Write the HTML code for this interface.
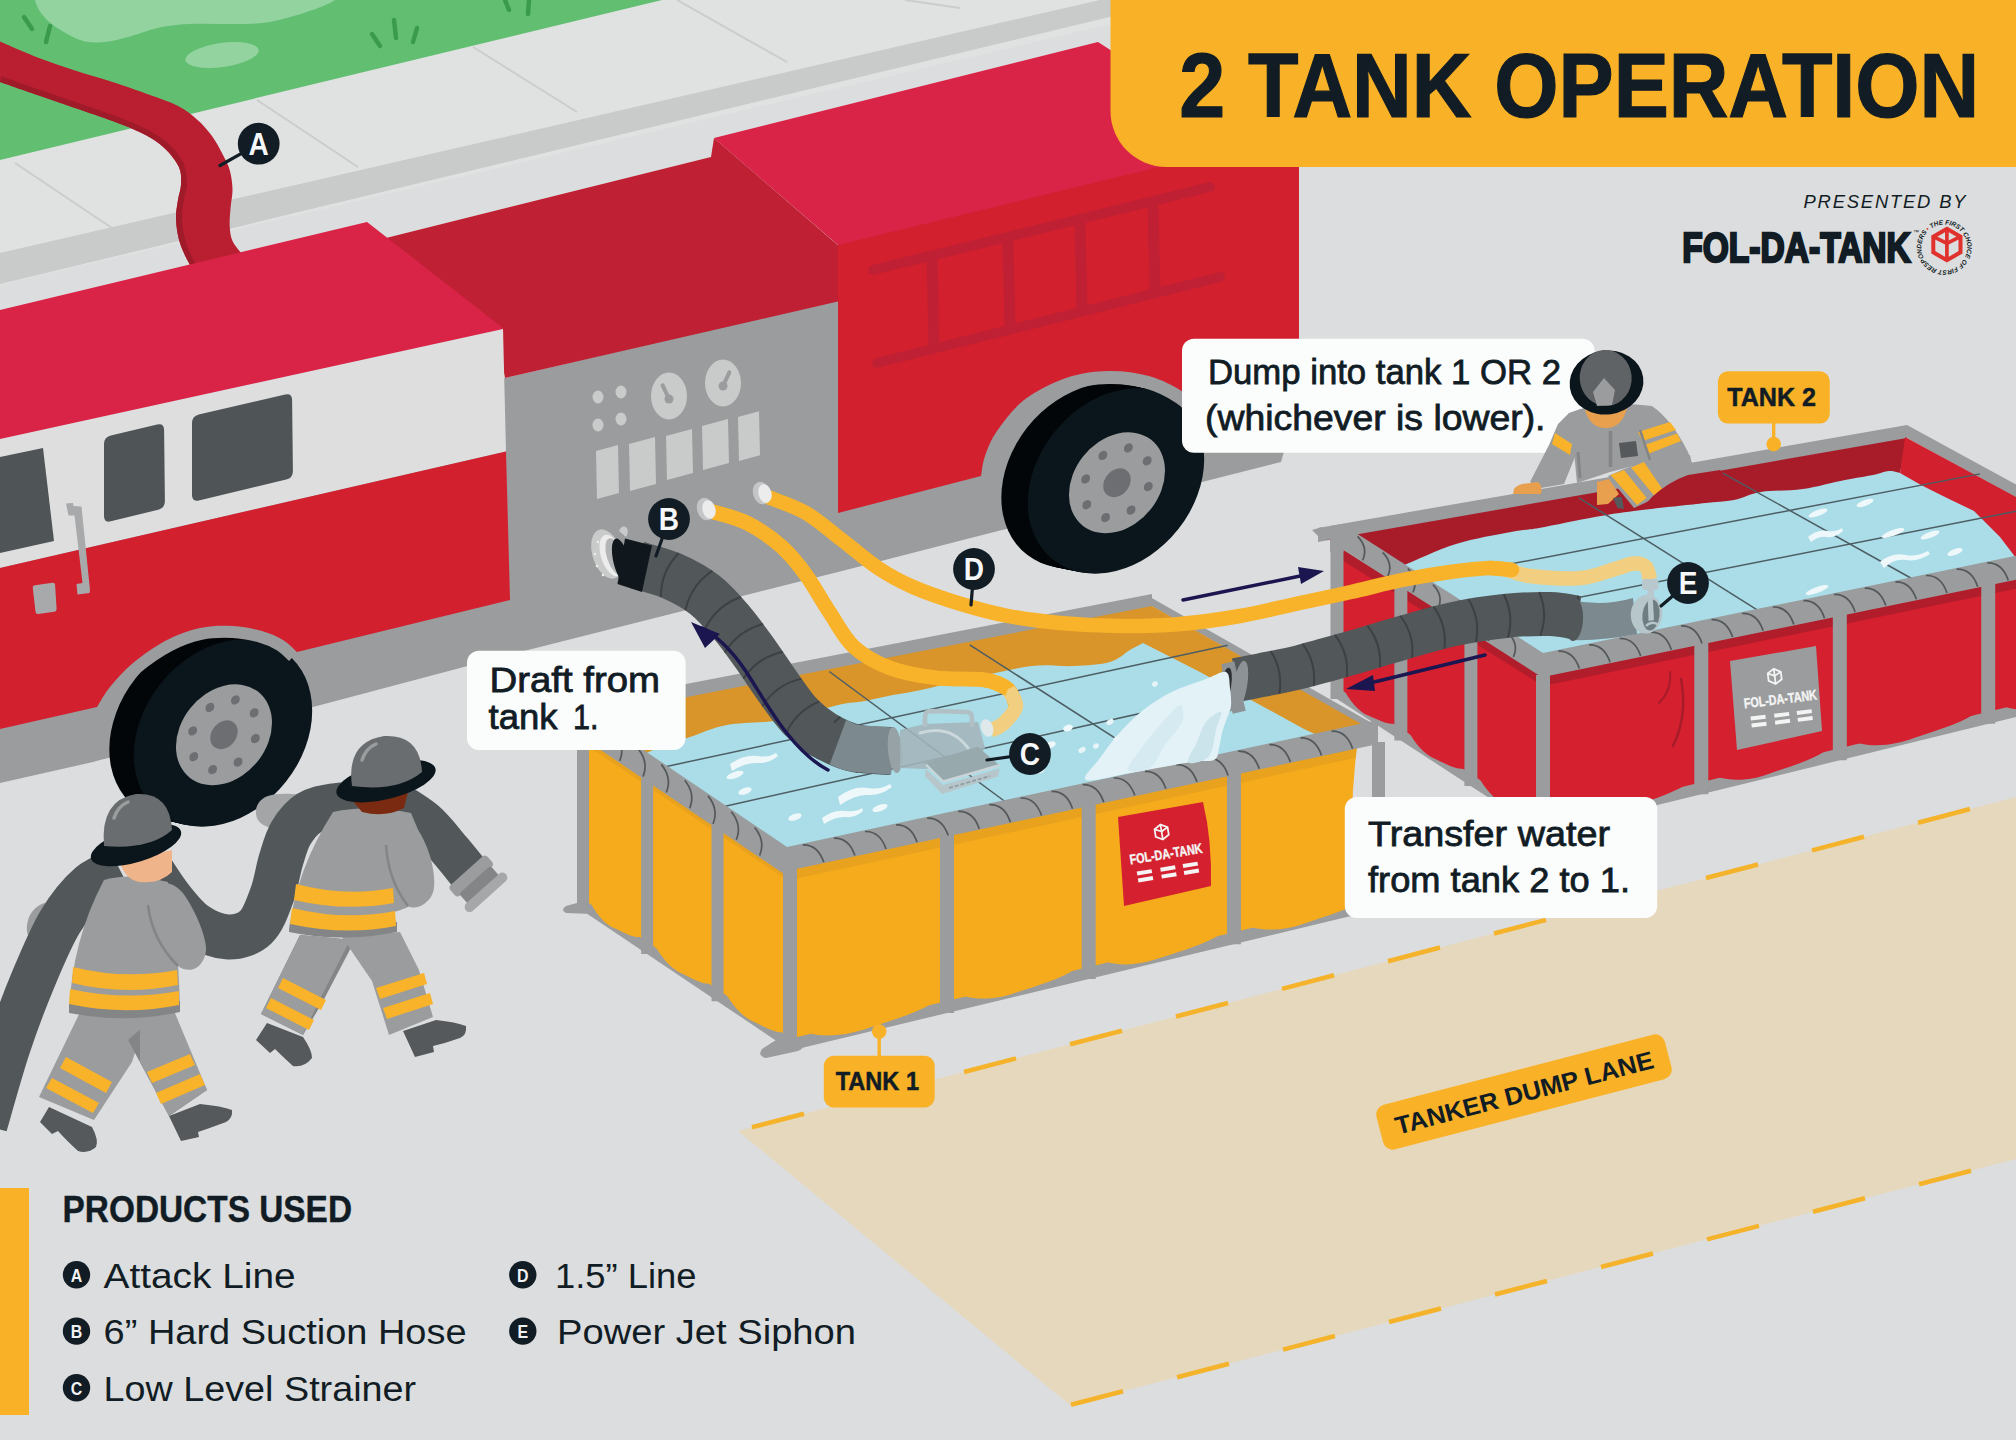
<!DOCTYPE html>
<html><head><meta charset="utf-8"><title>2 Tank Operation</title>
<style>
html,body{margin:0;padding:0;background:#dcddde;}
body{width:2016px;height:1440px;overflow:hidden;}
svg{display:block;font-family:"Liberation Sans",sans-serif;}
</style></head><body>
<svg width="2016" height="1440" viewBox="0 0 2016 1440">
<rect width="2016" height="1440" fill="#dcddde"/>
<polygon points="0,0 1120,0 1120,22 0,285" fill="#e0e1e1" />
<polygon points="0,253 1100,0 1180,0 0,284" fill="#c9caca" />
<line x1="15" y1="163" x2="112" y2="228" stroke="#cbcccc" stroke-width="2" />
<line x1="257" y1="100" x2="358" y2="167" stroke="#cbcccc" stroke-width="2" />
<line x1="473" y1="47" x2="577" y2="112" stroke="#cbcccc" stroke-width="2" />
<line x1="677" y1="0" x2="787" y2="62" stroke="#cbcccc" stroke-width="2" />
<line x1="905" y1="0" x2="960" y2="8" stroke="#cbcccc" stroke-width="2" />
<polygon points="0,0 662,0 0,160" fill="#62bf72" />
<path d="M35,0 C40,20 60,30 75,38 C95,48 120,40 150,30 C190,18 230,28 270,22 C300,16 330,4 335,0 Z" fill="#93d3a0" />
<ellipse cx="222" cy="55" rx="37" ry="12" fill="#93d3a0" transform="rotate(-8 222 55)" />
<line x1="24" y1="17" x2="32" y2="29" stroke="#3b9b4d" stroke-width="4.5" stroke-linecap="round"/>
<line x1="50" y1="26" x2="46" y2="42" stroke="#3b9b4d" stroke-width="4.5" stroke-linecap="round"/>
<line x1="372" y1="34" x2="380" y2="46" stroke="#3b9b4d" stroke-width="4.5" stroke-linecap="round"/>
<line x1="394" y1="20" x2="396" y2="38" stroke="#3b9b4d" stroke-width="4.5" stroke-linecap="round"/>
<line x1="417" y1="28" x2="413" y2="42" stroke="#3b9b4d" stroke-width="4.5" stroke-linecap="round"/>
<line x1="505" y1="0" x2="509" y2="10" stroke="#3b9b4d" stroke-width="4.5" stroke-linecap="round"/>
<line x1="529" y1="0" x2="528" y2="14" stroke="#3b9b4d" stroke-width="4.5" stroke-linecap="round"/>
<path d="M0,41.6 C6.2,44.2 25.0,52.7 37.5,57.5 C50.0,62.3 62.5,66.5 75.0,70.6 C87.5,74.7 100.0,77.9 112.5,82.0 C125.0,86.1 139.1,91.0 150.0,95.0 C160.9,99.0 170.2,101.9 178.0,106.0 C185.8,110.1 191.3,114.4 197.0,119.4 C202.7,124.4 207.7,130.1 212.0,136.0 C216.3,141.9 220.1,149.3 223.0,155.0 C225.9,160.7 228.1,164.3 229.7,170.0 C231.3,175.7 232.3,182.8 232.5,189.0 C232.7,195.2 231.1,201.3 230.6,207.5 C230.1,213.7 229.4,220.4 229.7,226.0 C230.0,231.6 230.4,236.3 232.5,241.0 C234.6,245.7 240.4,251.8 242.0,254.0 L190,265 C188.8,262.6 184.8,255.5 182.8,250.6 C180.8,245.7 179.1,241.2 178.0,235.6 C176.9,230.0 176.0,222.9 176.0,217.0 C176.0,211.1 177.2,205.3 178.0,200.0 C178.8,194.7 180.7,190.0 181.0,185.0 C181.3,180.0 181.4,174.7 180.0,170.0 C178.6,165.3 175.9,161.4 172.5,157.0 C169.1,152.6 164.7,147.9 159.4,143.8 C154.1,139.7 148.4,136.3 140.6,132.5 C132.8,128.7 123.4,125.1 112.5,121.0 C101.6,116.9 87.5,112.3 75.0,108.0 C62.5,103.7 50.0,99.3 37.5,95.0 C25.0,90.7 6.2,84.2 0.0,82.0Z" fill="#b91f30" />
<path d="M190,265 C188.8,262.6 184.8,255.5 182.8,250.6 C180.8,245.7 179.1,241.2 178.0,235.6 C176.9,230.0 176.0,222.9 176.0,217.0 C176.0,211.1 177.2,205.3 178.0,200.0 C178.8,194.7 180.7,190.0 181.0,185.0 C181.3,180.0 181.4,174.7 180.0,170.0 C178.6,165.3 175.9,161.4 172.5,157.0 C169.1,152.6 164.7,147.9 159.4,143.8 C154.1,139.7 148.4,136.3 140.6,132.5 C132.8,128.7 123.4,125.1 112.5,121.0 C101.6,116.9 87.5,112.3 75.0,108.0 C62.5,103.7 50.0,99.3 37.5,95.0 C25.0,90.7 6.2,84.2 0.0,82.0 L1.5,76.5 C7.8,78.7 26.5,85.2 39.0,89.5 C51.5,93.8 64.0,98.2 76.5,102.5 C89.0,106.8 103.1,111.4 114.0,115.5 C124.9,119.6 133.8,123.0 142.1,127.0 C150.4,131.1 158.1,135.5 163.9,139.8 C169.7,144.1 173.6,148.6 177.0,153.0 C180.4,157.4 182.8,160.8 184.5,166.0 C186.2,171.2 187.1,178.9 187.0,184.5 C186.9,190.1 184.8,194.2 184.0,199.5 C183.2,204.8 182.0,210.6 182.0,216.5 C182.0,222.4 182.9,229.5 184.0,235.1 C185.1,240.7 186.8,245.2 188.8,250.1 C190.8,255.0 194.8,262.1 196.0,264.5Z" fill="#9f1b2a" />
<polygon points="738,1131 2016,797 2016,1159 1070,1405" fill="#e6d8bd" />
<line x1="752" y1="1127.34" x2="804" y2="1113.75" stroke="#f5b32b" stroke-width="4.6" />
<line x1="858" y1="1099.64" x2="910" y2="1086.06" stroke="#f5b32b" stroke-width="4.6" />
<line x1="964" y1="1071.95" x2="1016" y2="1058.36" stroke="#f5b32b" stroke-width="4.6" />
<line x1="1070" y1="1044.25" x2="1122" y2="1030.66" stroke="#f5b32b" stroke-width="4.6" />
<line x1="1176" y1="1016.55" x2="1228" y2="1002.96" stroke="#f5b32b" stroke-width="4.6" />
<line x1="1282" y1="988.853" x2="1334" y2="975.265" stroke="#f5b32b" stroke-width="4.6" />
<line x1="1388" y1="961.155" x2="1440" y2="947.567" stroke="#f5b32b" stroke-width="4.6" />
<line x1="1494" y1="933.457" x2="1546" y2="919.87" stroke="#f5b32b" stroke-width="4.6" />
<line x1="1600" y1="905.759" x2="1652" y2="892.172" stroke="#f5b32b" stroke-width="4.6" />
<line x1="1706" y1="878.062" x2="1758" y2="864.474" stroke="#f5b32b" stroke-width="4.6" />
<line x1="1812" y1="850.364" x2="1864" y2="836.776" stroke="#f5b32b" stroke-width="4.6" />
<line x1="1918" y1="822.666" x2="1970" y2="809.078" stroke="#f5b32b" stroke-width="4.6" />
<line x1="1071" y1="1404.74" x2="1123" y2="1391.22" stroke="#f5b32b" stroke-width="4.6" />
<line x1="1177" y1="1377.18" x2="1229" y2="1363.66" stroke="#f5b32b" stroke-width="4.6" />
<line x1="1283" y1="1349.62" x2="1335" y2="1336.1" stroke="#f5b32b" stroke-width="4.6" />
<line x1="1389" y1="1322.06" x2="1441" y2="1308.54" stroke="#f5b32b" stroke-width="4.6" />
<line x1="1495" y1="1294.5" x2="1547" y2="1280.98" stroke="#f5b32b" stroke-width="4.6" />
<line x1="1601" y1="1266.94" x2="1653" y2="1253.42" stroke="#f5b32b" stroke-width="4.6" />
<line x1="1707" y1="1239.38" x2="1759" y2="1225.86" stroke="#f5b32b" stroke-width="4.6" />
<line x1="1813" y1="1211.82" x2="1865" y2="1198.3" stroke="#f5b32b" stroke-width="4.6" />
<line x1="1919" y1="1184.26" x2="1971" y2="1170.74" stroke="#f5b32b" stroke-width="4.6" />
<polygon points="0,500 505,378 838,300 1299,180 1299,400 1281,462 1202,482 1002,530 838,572 520,652 313,707 100,760 93,762 0,783" fill="#9a9c9d" />
<g transform="matrix(0.98,-0.245,0,1,223,733)">
<circle cx="-25" cy="-12" r="91" fill="#020608" />
<circle cx="-21.875" cy="-10.5" r="91" fill="#020608" />
<circle cx="-18.75" cy="-9" r="91" fill="#020608" />
<circle cx="-15.625" cy="-7.5" r="91" fill="#020608" />
<circle cx="-12.5" cy="-6" r="91" fill="#020608" />
<circle cx="-9.375" cy="-4.5" r="91" fill="#020608" />
<circle cx="-6.25" cy="-3" r="91" fill="#020608" />
<circle cx="-3.125" cy="-1.5" r="91" fill="#020608" />
<circle cx="-0" cy="-0" r="91" fill="#0b161c" />
<circle cx="1" cy="2" r="49" fill="#9a9c9d" />
<circle cx="1" cy="2" r="14" fill="#6c6e71" />
<circle cx="32.9495" cy="13.6287" r="4.5" fill="#6c6e71" />
<circle cx="15.369" cy="32.8145" r="4.5" fill="#6c6e71" />
<circle cx="-10.6287" cy="33.9495" r="4.5" fill="#6c6e71" />
<circle cx="-29.8145" cy="16.369" r="4.5" fill="#6c6e71" />
<circle cx="-30.9495" cy="-9.62868" r="4.5" fill="#6c6e71" />
<circle cx="-13.369" cy="-28.8145" r="4.5" fill="#6c6e71" />
<circle cx="12.6287" cy="-29.9495" r="4.5" fill="#6c6e71" />
<circle cx="31.8145" cy="-12.369" r="4.5" fill="#6c6e71" />
</g>
<g transform="matrix(0.98,-0.245,0,1,1116,481)">
<circle cx="-27" cy="-12" r="90" fill="#020608" />
<circle cx="-23.625" cy="-10.5" r="90" fill="#020608" />
<circle cx="-20.25" cy="-9" r="90" fill="#020608" />
<circle cx="-16.875" cy="-7.5" r="90" fill="#020608" />
<circle cx="-13.5" cy="-6" r="90" fill="#020608" />
<circle cx="-10.125" cy="-4.5" r="90" fill="#020608" />
<circle cx="-6.75" cy="-3" r="90" fill="#020608" />
<circle cx="-3.375" cy="-1.5" r="90" fill="#020608" />
<circle cx="-0" cy="-0" r="90" fill="#0b161c" />
<circle cx="1" cy="2" r="49" fill="#9a9c9d" />
<circle cx="1" cy="2" r="14" fill="#6c6e71" />
<circle cx="32.9495" cy="13.6287" r="4.5" fill="#6c6e71" />
<circle cx="15.369" cy="32.8145" r="4.5" fill="#6c6e71" />
<circle cx="-10.6287" cy="33.9495" r="4.5" fill="#6c6e71" />
<circle cx="-29.8145" cy="16.369" r="4.5" fill="#6c6e71" />
<circle cx="-30.9495" cy="-9.62868" r="4.5" fill="#6c6e71" />
<circle cx="-13.369" cy="-28.8145" r="4.5" fill="#6c6e71" />
<circle cx="12.6287" cy="-29.9495" r="4.5" fill="#6c6e71" />
<circle cx="31.8145" cy="-12.369" r="4.5" fill="#6c6e71" />
</g>
<path d="M297,652 C294.7,650.0 288.8,643.5 283.0,640.0 C277.2,636.5 270.3,633.3 262.0,631.0 C253.7,628.7 243.3,626.5 233.0,626.0 C222.7,625.5 211.0,625.7 200.0,628.0 C189.0,630.3 178.2,634.2 167.0,640.0 C155.8,645.8 142.5,655.2 133.0,663.0 C123.5,670.8 116.0,679.7 110.0,687.0 C104.0,694.3 100.0,698.2 97.0,707.0 C94.0,715.8 92.8,734.5 92.0,740.0" fill="none" stroke="#9a9c9d" stroke-width="24" stroke-linejoin="round"/>
<path d="M1215,440 C1212.5,435.0 1205.3,418.0 1200.0,410.0 C1194.7,402.0 1191.5,397.7 1183.0,392.0 C1174.5,386.3 1161.5,379.5 1149.0,376.0 C1136.5,372.5 1121.8,370.7 1108.0,371.0 C1094.2,371.3 1080.0,373.2 1066.0,378.0 C1052.0,382.8 1035.5,391.2 1024.0,400.0 C1012.5,408.8 1003.5,421.7 997.0,431.0 C990.5,440.3 987.7,448.5 985.0,456.0 C982.3,463.5 981.2,465.3 981.0,476.0 C980.8,486.7 983.5,512.7 984.0,520.0" fill="none" stroke="#9a9c9d" stroke-width="26" stroke-linejoin="round"/>
<polygon points="380,239.5 711,157 714,138 840,247 840,301 505,378 497,336" fill="#bf2033" />
<polygon points="0,438 503,328 506,451.5 0,568" fill="#dededf" />
<path d="M0,568 L506,451.5 L510,600 L297,652  C294.7,650.0 288.8,643.5 283.0,640.0 C277.2,636.5 270.3,633.3 262.0,631.0 C253.7,628.7 243.3,626.5 233.0,626.0 C222.7,625.5 211.0,625.7 200.0,628.0 C189.0,630.3 178.2,634.2 167.0,640.0 C155.8,645.8 142.5,655.2 133.0,663.0 C123.5,670.8 116.0,679.7 110.0,687.0 C104.0,694.3 99.2,703.7 97.0,707.0 L0,729 Z" fill="#d2202f" />
<polygon points="0,310 367,222 503,328 503,329 0,439" fill="#d92347" />
<path d="M192.0,423.0 Q192.0,416.0 198.8,414.4 L285.2,394.6 Q292.0,393.0 292.1,400.0 L292.9,471.0 Q293.0,478.0 286.2,479.6 L198.8,500.4 Q192.0,502.0 192.0,495.0 Z" fill="#4f5457" />
<path d="M104.0,444.0 Q104.0,437.0 110.8,435.4 L157.2,424.6 Q164.0,423.0 164.1,430.0 L164.9,501.0 Q165.0,508.0 158.2,509.7 L110.8,521.3 Q104.0,523.0 104.0,516.0 Z" fill="#4f5457" />
<polygon points="0,457 43,448 54,541 0,553" fill="#4f5457" />
<path d="M66,503.5 L73,503 L73.5,506 L81.5,506.5 L90,590 L89.5,593 L77.5,594.5 L76.5,584 L82.5,583 L74.5,515.5 L68.5,515.5 Z" fill="#a7a9aa" />
<path d="M32.8,588.0 Q32.5,585.5 35.0,585.2 L52.5,582.8 Q55.0,582.5 55.1,585.0 L56.6,609.0 Q56.7,611.5 54.2,611.8 L38.3,613.9 Q35.8,614.2 35.5,611.7 Z" fill="#a7a9aa" />
<ellipse cx="598" cy="397" rx="5.5" ry="6.5" fill="#c9caca" />
<ellipse cx="621" cy="392" rx="5.5" ry="6.5" fill="#c9caca" />
<ellipse cx="598" cy="425" rx="5.5" ry="6.5" fill="#c9caca" />
<ellipse cx="621" cy="419" rx="5.5" ry="6.5" fill="#c9caca" />
<ellipse cx="669" cy="396" rx="18" ry="23.5" fill="#c9caca" />
<circle cx="669" cy="399" r="4.5" fill="#9a9c9d" />
<line x1="669" y1="399" x2="662.661" y2="385.405" stroke="#9a9c9d" stroke-width="4" stroke-linecap="round"/>
<ellipse cx="723" cy="383" rx="18" ry="23.5" fill="#c9caca" />
<circle cx="723" cy="386" r="4.5" fill="#9a9c9d" />
<line x1="723" y1="386" x2="729.339" y2="372.405" stroke="#9a9c9d" stroke-width="4" stroke-linecap="round"/>
<polygon points="596,451 618,445.06 619,493.06 597,499" fill="#c9caca" />
<polygon points="629,444 655,436.98 656,483.98 630,491" fill="#c9caca" />
<polygon points="666,436 692,428.98 693,472.98 667,480" fill="#c9caca" />
<polygon points="702,426 728,418.98 729,462.98 703,470" fill="#c9caca" />
<polygon points="738,417 759,411.33 760,455.33 739,461" fill="#c9caca" />
<path d="M838,243 L1299,131 L1299,400 L1200,410  C1197.2,407.0 1191.5,397.7 1183.0,392.0 C1174.5,386.3 1161.5,379.5 1149.0,376.0 C1136.5,372.5 1121.8,370.7 1108.0,371.0 C1094.2,371.3 1080.0,373.2 1066.0,378.0 C1052.0,382.8 1035.5,391.2 1024.0,400.0 C1012.5,408.8 1003.5,421.7 997.0,431.0 C990.5,440.3 987.7,448.5 985.0,456.0 C982.3,463.5 981.7,472.7 981.0,476.0 L838,513 Z" fill="#d2202f" />
<polygon points="714,138 1098,42 1180,95 1299,133 838,245" fill="#d92347" />
<line x1="873" y1="270" x2="1210" y2="187" stroke="#c02033" stroke-width="10" stroke-linecap="round"/>
<line x1="877" y1="363" x2="1220" y2="277" stroke="#c02033" stroke-width="10" stroke-linecap="round"/>
<line x1="932" y1="258" x2="934" y2="346" stroke="#c02033" stroke-width="11" />
<line x1="1008" y1="240" x2="1010" y2="328" stroke="#c02033" stroke-width="11" />
<line x1="1080" y1="222" x2="1082" y2="310" stroke="#c02033" stroke-width="11" />
<line x1="1153" y1="205" x2="1155" y2="293" stroke="#c02033" stroke-width="11" />
<rect x="1182" y="338.8" width="412.6" height="114" rx="12" fill="#fbfdfd"/>
<text x="1208" y="384" font-size="35.7" font-weight="normal" fill="#111c24" textLength="353" lengthAdjust="spacingAndGlyphs" stroke="#111c24" stroke-width="0.8">Dump into tank 1 OR 2</text>
<text x="1205" y="429.8" font-size="35.7" font-weight="normal" fill="#111c24" textLength="340.5" lengthAdjust="spacingAndGlyphs" stroke="#111c24" stroke-width="0.8">(whichever is lower).</text>
<polygon points="1318,528 1907,425 1907,439 1318,542" fill="#9a9c9d" />
<polygon points="1907,425 2125,544 2125,557 1907,438" fill="#9a9c9d" />
<polygon points="1322,527 1312,530 1322,540" fill="#9a9c9d" />
<polygon points="1325,540 1907,438 1900,473 1700,560 1543,655 1345,535" fill="#a81c2a" />
<polygon points="1905,437 2016,497 2016,565 1900,474" fill="#d2202f" />
<path d="M1569,413 Q1600,400 1652,406 Q1672,420 1688,452 L1693,466 L1660,472 L1633,466 L1610,472 L1577,483 L1574,452 Z" fill="#9a9c9d" />
<path d="M1569,413 L1587,419 L1577,452 L1564,484 L1541,488 L1530,482 L1549,445 L1558,424 Z" fill="#9a9c9d" />
<path d="M1578,452 L1580,478" fill="none" stroke="#838587" stroke-width="3"/>
<polygon points="1555,433 1572,444 1570,455 1552,444" fill="#f8b32a" />
<path d="M1513,494 Q1513,486 1522,484 L1538,482 Q1543,486 1541,494 Z" fill="#e8a04e" />
<line x1="1610.5" y1="431" x2="1610.5" y2="467" stroke="#838587" stroke-width="3.5" />
<polygon points="1619,443 1636,441 1638,456 1621,458" fill="#55595b" />
<polygon points="1638,432 1670,422 1676,430 1642.5,441" fill="#f8b32a" />
<polygon points="1644.6,445 1677,433.5 1681,441 1649,453.6" fill="#f8b32a" />
<path d="M1640,430 L1650,460" fill="none" stroke="#838587" stroke-width="2.5"/>
<path d="M1690,455 Q1672,462 1644,462 L1624,469 L1608,476 L1634,508 L1660,496 L1693,470 Z" fill="#9a9c9d" />
<polygon points="1610.5,475 1624,470 1646.7,498 1637,505" fill="#f8b32a" />
<polygon points="1631,467.5 1644,462 1663,490 1653.6,495" fill="#f8b32a" />
<path d="M1597,482 L1609,479 L1619,494 L1608,504 L1597,505 Z" fill="#e8a04e" />
<polygon points="1613,498 1621.7,496.7 1624,509 1617.5,508" fill="#55595b" />
<path d="M1585,410 Q1590,428 1606,428 Q1622,428 1627,408 Z" fill="#e8a04e" />
<ellipse cx="1606.5" cy="382.5" rx="37" ry="32" fill="#0b161c" transform="rotate(-8 1606.5 382.5)" />
<ellipse cx="1605.7" cy="378" rx="26" ry="28" fill="#5f6366" transform="rotate(-5 1605.7 378)" />
<path d="M1593,392 L1604,378 L1615,390 L1612,405 L1597,406 Z" fill="#9a9c9d" />
<path d="M1630,512 Q1645,506 1652,497 Q1668,482 1688,475 L1720,470 L1730,500 L1640,524 Z" fill="#a81c2a" />
<path d="M1380,575 C1383.7,573.5 1389.3,571.2 1402.0,566.0 C1414.7,560.8 1437.8,549.7 1456.0,544.0 C1474.2,538.3 1497.2,534.7 1511.0,532.0 C1524.8,529.3 1525.0,530.5 1539.0,528.0 C1553.0,525.5 1579.2,519.8 1595.0,517.0 C1610.8,514.2 1620.2,512.8 1634.0,511.0 C1647.8,509.2 1666.0,507.3 1678.0,506.0 C1690.0,504.7 1696.7,504.0 1706.0,503.0 C1715.3,502.0 1724.8,501.8 1734.0,500.0 C1743.2,498.2 1749.5,493.8 1761.0,492.0 C1772.5,490.2 1789.0,491.0 1803.0,489.0 C1817.0,487.0 1833.3,482.3 1845.0,480.0 C1856.7,477.7 1865.7,476.5 1873.0,475.0 C1880.3,473.5 1884.5,471.3 1889.0,471.0 C1893.5,470.7 1898.2,472.7 1900.0,473.0 L1921,485 L1947,498 L1974,511 L2000,537 L2016,558 L2016,600 L1543,657 Z" fill="#aadde8" />
<line x1="1578.9" y1="497.77" x2="1758.34" y2="610.711" stroke="#4d5d63" stroke-width="1.5" />
<line x1="1722.76" y1="473.05" x2="1912.57" y2="578.99" stroke="#4d5d63" stroke-width="1.5" />
<line x1="1410.25" y1="583.25" x2="1980.03" y2="473.865" stroke="#4d5d63" stroke-width="1.5" />
<line x1="1473.25" y1="618.25" x2="2039.98" y2="506.59" stroke="#4d5d63" stroke-width="1.5" />
<ellipse cx="1818" cy="513" rx="10" ry="3" fill="#eef8fb" transform="rotate(-20 1818 513)" />
<ellipse cx="1865" cy="503" rx="9" ry="3" fill="#eef8fb" transform="rotate(-20 1865 503)" />
<ellipse cx="1893" cy="533" rx="12" ry="3" fill="#eef8fb" transform="rotate(-20 1893 533)" />
<ellipse cx="1930" cy="535" rx="10" ry="3" fill="#eef8fb" transform="rotate(-20 1930 535)" />
<ellipse cx="1817" cy="590" rx="12" ry="3" fill="#eef8fb" transform="rotate(-20 1817 590)" />
<ellipse cx="1955" cy="552" rx="8" ry="3" fill="#eef8fb" transform="rotate(-20 1955 552)" />
<path d="M1880,562 q12,-10 26,-7 q10,2 22,-4 l2,3 q-12,8 -24,6 q-12,-2 -22,8 z" fill="#eef8fb" />
<path d="M1808,537 q10,-8 20,-6 q8,1 14,-3 l1,3 q-8,7 -16,6 q-9,-1 -16,5 z" fill="#eef8fb" />
<polygon points="1337,686 1543,820 1543,833 1337,699" fill="#9a9c9d" />
<path d="M1337.0,546.0 L1400.9,586.0 L1400.9,728.5 L1337.0,687.0 Z" fill="#d5202f" />
<path d="M1344.7,691.0 C1353.0,706.4 1362.5,713.6 1368.9,715.8 C1378.5,720.0 1388.1,725.2 1394.5,723.4 Z" fill="#d5202f" />
<path d="M1400.9,586.0 L1470.9,629.9 L1470.9,774.1 L1400.9,728.5 Z" fill="#d5202f" />
<path d="M1409.3,733.0 C1418.4,748.9 1428.9,756.8 1435.9,759.3 C1446.4,764.2 1456.9,770.0 1463.9,768.5 Z" fill="#d5202f" />
<path d="M1470.9,629.9 L1543.0,675.0 L1543.0,821.0 L1470.9,774.1 Z" fill="#d5202f" />
<path d="M1479.6,778.7 C1488.9,794.8 1499.7,802.9 1507.0,805.5 C1517.8,810.6 1528.6,816.6 1535.8,815.3 Z" fill="#d5202f" />
<polygon points="1337,546 1543,675 1543,686 1337,557" fill="#b21d2b" />
<polygon points="1330.5,546 1343.5,546 1343.5,699 1330.5,699" fill="#9a9c9d" />
<polygon points="1394.36,585.99 1407.36,585.99 1407.36,740.54 1394.36,740.54" fill="#9a9c9d" />
<polygon points="1464.4,629.85 1477.4,629.85 1477.4,786.1 1464.4,786.1" fill="#9a9c9d" />
<polygon points="1536.5,675 1549.5,675 1549.5,833 1536.5,833" fill="#9a9c9d" />
<polygon points="1543,820 2125,677.3 2125,690.3 1543,833" fill="#9a9c9d" />
<path d="M1543.0,675.0 L1701.3,642.4 L1701.3,782.2 L1543.0,821.0 Z" fill="#d5202f" />
<path d="M1562.0,815.3 C1582.6,820.3 1606.3,815.5 1622.2,809.6 C1645.9,801.8 1669.6,794.9 1685.5,785.1 Z" fill="#d5202f" />
<path d="M1701.3,642.4 L1839.8,614.0 L1839.8,748.2 L1701.3,782.2 Z" fill="#d5202f" />
<path d="M1717.9,777.1 C1735.9,782.7 1756.7,778.6 1770.6,773.2 C1791.3,766.1 1812.1,760.0 1826.0,750.6 Z" fill="#d5202f" />
<path d="M1839.8,614.0 L1988.2,583.4 L1988.2,711.8 L1839.8,748.2 Z" fill="#d5202f" />
<path d="M1857.6,742.9 C1876.9,748.1 1899.2,743.7 1914.0,738.0 C1936.3,730.6 1958.5,724.1 1973.4,714.5 Z" fill="#d5202f" />
<path d="M1988.2,583.4 L2125.0,555.3 L2125.0,678.3 L1988.2,711.8 Z" fill="#d5202f" />
<path d="M2004.6,706.8 C2022.4,712.5 2042.9,708.4 2056.6,703.1 C2077.1,696.0 2097.6,690.0 2111.3,680.7 Z" fill="#d5202f" />
<polygon points="1543,675 2125,555.3 2125,566.3 1543,686" fill="#b21d2b" />
<polygon points="1536,675 1550,675 1550,833 1536,833" fill="#9a9c9d" />
<polygon points="1694.3,642.442 1708.3,642.442 1708.3,794.186 1694.3,794.186" fill="#9a9c9d" />
<polygon points="1832.82,613.953 1846.82,613.953 1846.82,760.223 1832.82,760.223" fill="#9a9c9d" />
<polygon points="1981.23,583.429 1995.23,583.429 1995.23,723.834 1981.23,723.834" fill="#9a9c9d" />
<polygon points="2118,555.3 2132,555.3 2132,690.3 2118,690.3" fill="#9a9c9d" />
<path d="M1670,672 Q1672,690 1659,703" fill="none" stroke="#a81c2a" stroke-width="2" stroke-linecap="round"/>
<path d="M1681,679 Q1688,715 1673,746" fill="none" stroke="#a81c2a" stroke-width="2.5" stroke-linecap="round"/>
<polygon points="1730,661 1816,646 1822,731 1737,750" fill="#9a9c9d" />
<polygon points="1330,526 1343.5,524 1343.5,552 1330,552" fill="#9a9c9d" />
<polygon points="1342,524 1543,653 1543,678 1342,549" fill="#9a9c9d" />
<path d="M1357.6,536.3 Q1368.6,547.8 1362.6,560.3" fill="none" stroke="#55585b" stroke-width="1.7"/>
<path d="M1382.7,552.4 Q1393.7,563.9 1387.7,576.4" fill="none" stroke="#55585b" stroke-width="1.7"/>
<path d="M1407.8,568.5 Q1418.8,580.0 1412.8,592.5" fill="none" stroke="#55585b" stroke-width="1.7"/>
<path d="M1433.0,584.7 Q1444.0,596.2 1438.0,608.7" fill="none" stroke="#55585b" stroke-width="1.7"/>
<path d="M1458.1,600.8 Q1469.1,612.3 1463.1,624.8" fill="none" stroke="#55585b" stroke-width="1.7"/>
<path d="M1483.2,616.9 Q1494.2,628.4 1488.2,640.9" fill="none" stroke="#55585b" stroke-width="1.7"/>
<path d="M1508.3,633.0 Q1519.3,644.5 1513.3,657.0" fill="none" stroke="#55585b" stroke-width="1.7"/>
<polygon points="1543,653 2125,533.3 2125,557.3 1543,677" fill="#9a9c9d" />
<path d="M1558.4,651.1 Q1573.4,650.6 1579.4,668.6" fill="none" stroke="#55585b" stroke-width="1.7"/>
<path d="M1589.1,644.8 Q1604.1,644.3 1610.1,662.3" fill="none" stroke="#55585b" stroke-width="1.7"/>
<path d="M1619.7,638.5 Q1634.7,638.0 1640.7,656.0" fill="none" stroke="#55585b" stroke-width="1.7"/>
<path d="M1650.3,632.2 Q1665.3,631.7 1671.3,649.7" fill="none" stroke="#55585b" stroke-width="1.7"/>
<path d="M1681.0,625.9 Q1696.0,625.4 1702.0,643.4" fill="none" stroke="#55585b" stroke-width="1.7"/>
<path d="M1711.6,619.6 Q1726.6,619.1 1732.6,637.1" fill="none" stroke="#55585b" stroke-width="1.7"/>
<path d="M1742.2,613.3 Q1757.2,612.8 1763.2,630.8" fill="none" stroke="#55585b" stroke-width="1.7"/>
<path d="M1772.9,607.0 Q1787.9,606.5 1793.9,624.5" fill="none" stroke="#55585b" stroke-width="1.7"/>
<path d="M1803.5,600.7 Q1818.5,600.2 1824.5,618.2" fill="none" stroke="#55585b" stroke-width="1.7"/>
<path d="M1834.1,594.4 Q1849.1,593.9 1855.1,611.9" fill="none" stroke="#55585b" stroke-width="1.7"/>
<path d="M1864.8,588.1 Q1879.8,587.6 1885.8,605.6" fill="none" stroke="#55585b" stroke-width="1.7"/>
<path d="M1895.4,581.8 Q1910.4,581.3 1916.4,599.3" fill="none" stroke="#55585b" stroke-width="1.7"/>
<path d="M1926.0,575.5 Q1941.0,575.0 1947.0,593.0" fill="none" stroke="#55585b" stroke-width="1.7"/>
<path d="M1956.7,569.2 Q1971.7,568.7 1977.7,586.7" fill="none" stroke="#55585b" stroke-width="1.7"/>
<path d="M1987.3,562.9 Q2002.3,562.4 2008.3,580.4" fill="none" stroke="#55585b" stroke-width="1.7"/>
<path d="M2017.9,556.6 Q2032.9,556.1 2038.9,574.1" fill="none" stroke="#55585b" stroke-width="1.7"/>
<path d="M2048.5,550.3 Q2063.5,549.8 2069.5,567.8" fill="none" stroke="#55585b" stroke-width="1.7"/>
<path d="M2079.2,544.0 Q2094.2,543.5 2100.2,561.5" fill="none" stroke="#55585b" stroke-width="1.7"/>
<polygon points="577,705 1152,594 1152,608 577,719" fill="#9a9c9d" />
<polygon points="1150,597 1370,722 1370,730 1150,605" fill="#9a9c9d" />
<polygon points="585,717 1152,606 1372,730 1300,760 700,800" fill="#d9952a" />
<path d="M640,756 C644.2,754.2 656.7,748.2 665.0,745.0 C673.3,741.8 679.7,740.3 690.0,737.0 C700.3,733.7 711.7,727.8 727.0,725.0 C742.3,722.2 763.5,723.3 782.0,720.0 C800.5,716.7 824.2,708.2 838.0,705.0 C851.8,701.8 855.8,702.7 865.0,701.0 C874.2,699.3 883.7,696.8 893.0,695.0 C902.3,693.2 907.0,693.0 921.0,690.0 C935.0,687.0 958.5,681.0 977.0,677.0 C995.5,673.0 1015.8,667.8 1032.0,666.0 C1048.2,664.2 1061.0,666.7 1074.0,666.0 C1087.0,665.3 1100.7,664.7 1110.0,662.0 C1119.3,659.3 1124.5,653.2 1130.0,650.0 C1135.5,646.8 1140.8,644.2 1143.0,643.0 L1200,672 L1304,729 L1345,748 L795,868 Z" fill="#aadde8" />
<line x1="829.225" y1="671.49" x2="1005.67" y2="802.01" stroke="#4d5d63" stroke-width="1.5" />
<line x1="969.764" y1="644.85" x2="1162.29" y2="768.355" stroke="#4d5d63" stroke-width="1.5" />
<line x1="663.1" y1="767.22" x2="1227.71" y2="645.21" stroke="#4d5d63" stroke-width="1.5" />
<line x1="721.9" y1="806.98" x2="1289.86" y2="679.86" stroke="#4d5d63" stroke-width="1.5" />
<ellipse cx="735" cy="775" rx="9" ry="3.2" fill="#eef8fb" transform="rotate(-20 735 775)" />
<ellipse cx="745" cy="791" rx="7" ry="3.2" fill="#eef8fb" transform="rotate(-20 745 791)" />
<ellipse cx="795" cy="817" rx="7" ry="3.2" fill="#eef8fb" transform="rotate(-20 795 817)" />
<ellipse cx="880" cy="808" rx="8" ry="3.2" fill="#eef8fb" transform="rotate(-20 880 808)" />
<ellipse cx="1050" cy="745" rx="6" ry="3.2" fill="#eef8fb" transform="rotate(-20 1050 745)" />
<ellipse cx="1068" cy="728" rx="5" ry="3.2" fill="#eef8fb" transform="rotate(-20 1068 728)" />
<ellipse cx="1040" cy="770" rx="5" ry="3.2" fill="#eef8fb" transform="rotate(-20 1040 770)" />
<path d="M730,764 q14,-10 28,-8 q10,2 18,-3 l2,3 q-10,8 -20,7 q-12,-1 -26,8 z" fill="#eef8fb" />
<path d="M838,797 q16,-12 30,-9 q12,2 22,-4 l2,3 q-12,9 -24,8 q-12,-1 -28,10 z" fill="#eef8fb" />
<path d="M822,818 q12,-9 24,-7 q10,1 16,-3 l1,3 q-8,7 -17,6 q-10,-1 -22,7 z" fill="#eef8fb" />
<polygon points="583,898 790,1037 790,1050 583,911" fill="#9a9c9d" />
<path d="M583.0,732.0 L647.2,775.1 L647.2,942.1 L583.0,899.0 Z" fill="#f5ab1c" />
<path d="M590.7,903.2 C599.0,918.8 608.7,926.2 615.1,928.5 C624.7,933.0 634.3,938.5 640.8,936.8 Z" fill="#f5ab1c" />
<path d="M647.2,775.1 L717.5,822.4 L717.5,989.4 L647.2,942.1 Z" fill="#f5ab1c" />
<path d="M655.6,946.8 C664.8,962.9 675.3,971.0 682.4,973.7 C692.9,978.8 703.5,984.9 710.5,983.6 Z" fill="#f5ab1c" />
<path d="M717.5,822.4 L790.0,871.0 L790.0,1038.0 L717.5,989.4 Z" fill="#f5ab1c" />
<path d="M726.2,994.2 C735.7,1010.5 746.5,1018.8 753.8,1021.7 C764.6,1027.0 775.5,1033.3 782.8,1032.1 Z" fill="#f5ab1c" />
<polygon points="583,732 790,871 790,882 583,743" fill="#e9a21e" />
<polygon points="577,732 589,732 589,911 577,911" fill="#9a9c9d" />
<polygon points="641.17,775.09 653.17,775.09 653.17,954.09 641.17,954.09" fill="#9a9c9d" />
<polygon points="711.55,822.35 723.55,822.35 723.55,1001.35 711.55,1001.35" fill="#9a9c9d" />
<polygon points="784,871 796,871 796,1050 784,1050" fill="#9a9c9d" />
<polygon points="790,1037.7 1378,896.6 1378,909.6 790,1050.7" fill="#9a9c9d" />
<path d="M790.0,869.0 L947.0,835.1 L947.0,1001.0 L790.0,1038.7 Z" fill="#f5ab1c" />
<path d="M808.8,1033.2 C829.2,1038.3 852.8,1033.6 868.5,1027.9 C892.0,1020.2 915.6,1013.6 931.3,1003.8 Z" fill="#f5ab1c" />
<path d="M947.0,835.1 L1088.7,804.5 L1088.7,967.0 L947.0,1001.0 Z" fill="#f5ab1c" />
<path d="M964.0,995.9 C982.4,1001.5 1003.7,997.4 1017.8,992.0 C1039.1,984.9 1060.4,978.8 1074.5,969.4 Z" fill="#f5ab1c" />
<path d="M1088.7,804.5 L1233.9,773.1 L1233.9,932.2 L1088.7,967.0 Z" fill="#f5ab1c" />
<path d="M1106.1,961.8 C1125.0,967.3 1146.8,963.1 1161.3,957.6 C1183.1,950.4 1204.9,944.1 1219.4,934.7 Z" fill="#f5ab1c" />
<path d="M1233.9,773.1 L1378.0,742.0 L1378.0,897.6 L1233.9,932.2 Z" fill="#f5ab1c" />
<path d="M1251.2,927.0 C1270.0,932.5 1291.6,928.3 1306.0,922.9 C1327.6,915.7 1349.2,909.5 1363.6,900.1 Z" fill="#f5ab1c" />
<polygon points="790,869 1378,742 1378,753 790,880" fill="#e9a21e" />
<polygon points="783,869 797,869 797,1050.7 783,1050.7" fill="#9a9c9d" />
<polygon points="939.996,835.091 953.996,835.091 953.996,1013.03 939.996,1013.03" fill="#9a9c9d" />
<polygon points="1081.7,804.484 1095.7,804.484 1095.7,979.021 1081.7,979.021" fill="#9a9c9d" />
<polygon points="1226.94,773.115 1240.94,773.115 1240.94,944.169 1226.94,944.169" fill="#9a9c9d" />
<polygon points="1371,742 1385,742 1385,909.6 1371,909.6" fill="#9a9c9d" />
<path d="M1357,748 L1372,744 L1372,908 L1355,912 Q1358,880 1353,850 Q1350,800 1357,748 Z" fill="#dcddde" />
<path d="M1118,817 L1203,802 Q1212,840 1211,886 L1124,906 Z" fill="#d5202f" />
<polygon points="577,705 787,847 787,876 577,734" fill="#9a9c9d" />
<path d="M591.3,717.0 Q602.3,730.5 596.3,745.0" fill="none" stroke="#55585b" stroke-width="1.7"/>
<path d="M614.7,732.8 Q625.7,746.3 619.7,760.8" fill="none" stroke="#55585b" stroke-width="1.7"/>
<path d="M638.0,748.6 Q649.0,762.1 643.0,776.6" fill="none" stroke="#55585b" stroke-width="1.7"/>
<path d="M661.3,764.4 Q672.3,777.9 666.3,792.4" fill="none" stroke="#55585b" stroke-width="1.7"/>
<path d="M684.7,780.2 Q695.7,793.7 689.7,808.2" fill="none" stroke="#55585b" stroke-width="1.7"/>
<path d="M708.0,795.9 Q719.0,809.4 713.0,823.9" fill="none" stroke="#55585b" stroke-width="1.7"/>
<path d="M731.3,811.7 Q742.3,825.2 736.3,839.7" fill="none" stroke="#55585b" stroke-width="1.7"/>
<path d="M754.7,827.5 Q765.7,841.0 759.7,855.5" fill="none" stroke="#55585b" stroke-width="1.7"/>
<polygon points="787,847 1378,720 1378,744 787,871" fill="#9a9c9d" />
<path d="M802.8,844.8 Q817.8,844.3 823.8,862.3" fill="none" stroke="#55585b" stroke-width="1.7"/>
<path d="M833.9,838.1 Q848.9,837.6 854.9,855.6" fill="none" stroke="#55585b" stroke-width="1.7"/>
<path d="M865.0,831.5 Q880.0,831.0 886.0,849.0" fill="none" stroke="#55585b" stroke-width="1.7"/>
<path d="M896.1,824.8 Q911.1,824.3 917.1,842.3" fill="none" stroke="#55585b" stroke-width="1.7"/>
<path d="M927.2,818.1 Q942.2,817.6 948.2,835.6" fill="none" stroke="#55585b" stroke-width="1.7"/>
<path d="M958.3,811.4 Q973.3,810.9 979.3,828.9" fill="none" stroke="#55585b" stroke-width="1.7"/>
<path d="M989.4,804.7 Q1004.4,804.2 1010.4,822.2" fill="none" stroke="#55585b" stroke-width="1.7"/>
<path d="M1020.5,798.0 Q1035.5,797.5 1041.5,815.5" fill="none" stroke="#55585b" stroke-width="1.7"/>
<path d="M1051.6,791.3 Q1066.6,790.8 1072.6,808.8" fill="none" stroke="#55585b" stroke-width="1.7"/>
<path d="M1082.7,784.7 Q1097.7,784.2 1103.7,802.2" fill="none" stroke="#55585b" stroke-width="1.7"/>
<path d="M1113.8,778.0 Q1128.8,777.5 1134.8,795.5" fill="none" stroke="#55585b" stroke-width="1.7"/>
<path d="M1144.9,771.3 Q1159.9,770.8 1165.9,788.8" fill="none" stroke="#55585b" stroke-width="1.7"/>
<path d="M1176.0,764.6 Q1191.0,764.1 1197.0,782.1" fill="none" stroke="#55585b" stroke-width="1.7"/>
<path d="M1207.1,757.9 Q1222.1,757.4 1228.1,775.4" fill="none" stroke="#55585b" stroke-width="1.7"/>
<path d="M1238.2,751.2 Q1253.2,750.7 1259.2,768.7" fill="none" stroke="#55585b" stroke-width="1.7"/>
<path d="M1269.4,744.6 Q1284.4,744.1 1290.4,762.1" fill="none" stroke="#55585b" stroke-width="1.7"/>
<path d="M1300.5,737.9 Q1315.5,737.4 1321.5,755.4" fill="none" stroke="#55585b" stroke-width="1.7"/>
<path d="M1331.6,731.2 Q1346.6,730.7 1352.6,748.7" fill="none" stroke="#55585b" stroke-width="1.7"/>
<path d="M577,903 L591,905 L593,914 L566,913 Q560,910 566,906 Z" fill="#9a9c9d" />
<path d="M776,1040 L802,1040 Q806,1048 798,1051 L766,1058 Q757,1056 762,1049 Z" fill="#9a9c9d" />
<path d="M710,511 C716.2,513.0 735.0,517.0 747.0,523.0 C759.0,529.0 772.2,538.3 782.0,547.0 C791.8,555.7 798.0,564.0 806.0,575.0 C814.0,586.0 822.0,601.0 830.0,613.0 C838.0,625.0 844.0,637.8 854.0,647.0 C864.0,656.2 876.2,662.8 890.0,668.0 C903.8,673.2 921.2,676.0 937.0,678.0 C952.8,680.0 973.2,678.2 985.0,680.0 C996.8,681.8 1002.8,684.7 1008.0,689.0 C1013.2,693.3 1014.7,703.2 1016.0,706.0" fill="none" stroke="#f8b32a" stroke-width="14.5" stroke-linejoin="round" />
<path d="M1008,689 C1009.3,691.8 1016.7,700.3 1016.0,706.0 C1015.3,711.7 1008.3,718.8 1004.0,723.0 C999.7,727.2 992.3,729.7 990.0,731.0" fill="none" stroke="#f2cf80" stroke-width="14.5" stroke-linejoin="round" />
<path d="M710,511 C716.2,513.0 735.0,517.0 747.0,523.0 C759.0,529.0 772.2,538.3 782.0,547.0 C791.8,555.7 798.0,564.0 806.0,575.0 C814.0,586.0 822.0,601.0 830.0,613.0 C838.0,625.0 844.0,637.8 854.0,647.0 C864.0,656.2 876.2,662.8 890.0,668.0 C903.8,673.2 921.2,676.0 937.0,678.0 C952.8,680.0 973.2,678.2 985.0,680.0 C996.8,681.8 1004.2,687.5 1008.0,689.0" fill="none" stroke="#f8b32a" stroke-width="14.5" stroke-linejoin="round" />
<path d="M768,497 C774.3,499.7 793.7,505.8 806.0,513.0 C818.3,520.2 830.0,530.8 842.0,540.0 C854.0,549.2 866.2,560.2 878.0,568.0 C889.8,575.8 899.2,581.0 913.0,587.0 C926.8,593.0 945.2,599.2 961.0,604.0 C976.8,608.8 991.5,612.8 1008.0,616.0 C1024.5,619.2 1041.3,621.3 1060.0,623.0 C1078.7,624.7 1100.0,625.8 1120.0,626.0 C1140.0,626.2 1160.0,625.7 1180.0,624.0 C1200.0,622.3 1220.0,619.5 1240.0,616.0 C1260.0,612.5 1281.5,607.0 1300.0,603.0 C1318.5,599.0 1334.0,595.8 1351.0,592.0 C1368.0,588.2 1385.5,583.3 1402.0,580.0 C1418.5,576.7 1435.3,574.0 1450.0,572.0 C1464.7,570.0 1479.7,568.3 1490.0,568.0 C1500.3,567.7 1508.3,569.7 1512.0,570.0" fill="none" stroke="#f8b32a" stroke-width="14.5" stroke-linejoin="round" />
<path d="M1505,569 C1509.2,570.2 1517.3,574.5 1530.0,576.0 C1542.7,577.5 1566.8,579.2 1581.0,578.0 C1595.2,576.8 1606.2,571.4 1615.0,569.0 C1623.8,566.6 1628.8,563.8 1634.0,563.5 C1639.2,563.2 1643.3,564.2 1646.0,567.0 C1648.7,569.8 1649.3,577.8 1650.0,580.0" fill="none" stroke="#f2cf80" stroke-width="14.5" stroke-linejoin="round" />
<path d="M1490,568 C1493.7,568.3 1508.3,569.7 1512.0,570.0" fill="none" stroke="#f8b32a" stroke-width="14.5" stroke-linejoin="round" stroke-linecap="round"/>
<ellipse cx="705.5" cy="509" rx="8.5" ry="11.5" fill="#c4c5c6" transform="rotate(-15 705.5 509)" />
<ellipse cx="709" cy="509.5" rx="6.5" ry="9.5" fill="#ececec" transform="rotate(-15 709 509.5)" />
<ellipse cx="761.5" cy="493" rx="8.5" ry="11.5" fill="#c4c5c6" transform="rotate(-15 761.5 493)" />
<ellipse cx="765" cy="493.5" rx="6.5" ry="9.5" fill="#ececec" transform="rotate(-15 765 493.5)" />
<ellipse cx="607" cy="554" rx="14.5" ry="25.5" fill="#c9caca" transform="rotate(-18 607 554)" />
<ellipse cx="611.5" cy="555.5" rx="10.5" ry="21.5" fill="#ececec" transform="rotate(-18 611.5 555.5)" />
<ellipse cx="615" cy="556.5" rx="8" ry="19" fill="#b3b5b6" transform="rotate(-18 615 556.5)" />
<path d="M619,531 q3,-7 8,-3 q2,4 -1,9 z" fill="#c9caca" />
<circle cx="598" cy="542" r="1.3" fill="#ececec" />
<circle cx="595" cy="554" r="1.3" fill="#ececec" />
<circle cx="597" cy="566" r="1.3" fill="#ececec" />
<circle cx="603" cy="575" r="1.3" fill="#ececec" />
<path d="M637,565 C642.8,566.8 660.7,571.0 672.0,576.0 C683.3,581.0 695.0,587.2 705.0,595.0 C715.0,602.8 723.5,613.0 732.0,623.0 C740.5,633.0 748.3,644.3 756.0,655.0 C763.7,665.7 770.7,676.8 778.0,687.0 C785.3,697.2 792.3,708.0 800.0,716.0 C807.7,724.0 815.0,729.7 824.0,735.0 C833.0,740.3 842.7,745.3 854.0,748.0 C865.3,750.7 885.7,750.5 892.0,751.0" fill="none" stroke="#52575a" stroke-width="48" stroke-linejoin="round" />
<path d="M660.8,596.3 Q661.1,571.6 678.1,553.7" fill="none" stroke="#3d4143" stroke-width="2" stroke-linecap="round"/>
<path d="M685.6,609.4 Q691.2,585.3 711.6,571.4" fill="none" stroke="#3d4143" stroke-width="2" stroke-linecap="round"/>
<path d="M705.7,627.7 Q717.0,605.7 740.2,597.3" fill="none" stroke="#3d4143" stroke-width="2" stroke-linecap="round"/>
<path d="M725.3,651.8 Q738.4,630.8 762.3,624.3" fill="none" stroke="#3d4143" stroke-width="2" stroke-linecap="round"/>
<path d="M743.9,677.9 Q757.9,657.5 782.0,652.0" fill="none" stroke="#3d4143" stroke-width="2" stroke-linecap="round"/>
<path d="M762.8,705.4 Q776.5,684.8 800.5,678.9" fill="none" stroke="#3d4143" stroke-width="2" stroke-linecap="round"/>
<path d="M785.7,734.2 Q795.7,711.6 818.4,701.9" fill="none" stroke="#3d4143" stroke-width="2" stroke-linecap="round"/>
<path d="M817.3,757.7 Q820.6,733.2 839.6,717.4" fill="none" stroke="#3d4143" stroke-width="2" stroke-linecap="round"/>
<path d="M856.4,771.8 Q850.3,747.8 862.1,726.1" fill="none" stroke="#3d4143" stroke-width="2" stroke-linecap="round"/>
<path d="M838,742 C840.7,743.0 844.8,746.5 854.0,748.0 C863.2,749.5 886.5,750.5 893.0,751.0" fill="none" stroke="#7c8a8f" stroke-width="47" stroke-linejoin="round" />
<path d="M826,712 Q850,735 820,760 L800,750 Q815,735 810,716 Z" fill="#52575a" />
<ellipse cx="895" cy="750" rx="7" ry="23" fill="#96a2a6" transform="rotate(-5 895 750)" />
<path d="M625,538.5 L652,545.5 L642,592 L617.5,584 Z" fill="#10181d" />
<ellipse cx="621.5" cy="561.5" rx="8" ry="23.5" fill="#10181d" transform="rotate(-14 621.5 561.5)" />
<path d="M900,730 L925,724 L978,722 L985,748 L978,760 L925,769 L900,768 Z" fill="#a3b4b9" opacity="0.88"/>
<path d="M925,727 L925,717 Q925,711 931,711 L966,712 Q972,712 972,718 L972,727" fill="none" stroke="#b0c0c4" stroke-width="4.7" stroke-linejoin="round"/>
<path d="M920,733 Q950,724 968,748" fill="none" stroke="#cbd8db" stroke-width="3" stroke-linecap="round"/>
<polygon points="924.6,763.3 977.7,746.7 999.6,765.4 943.3,782" fill="#98a9ae" />
<polygon points="926,769 943,785 999.6,768.5 998,776.5 942,794 925,776" fill="#b7c6ca" />
<line x1="943.3" y1="781.5" x2="999.6" y2="765.2" stroke="#c9d5d8" stroke-width="2.6" />
<line x1="926" y1="764.5" x2="943.3" y2="781.5" stroke="#c9d5d8" stroke-width="2.2" />
<line x1="949" y1="788" x2="990" y2="776" stroke="#8b9ca1" stroke-width="1.6" stroke-dasharray="4 2"/>
<ellipse cx="987" cy="728" rx="6" ry="9" fill="#dfe9ec" transform="rotate(-20 987 728)" />
<ellipse cx="1231" cy="687" rx="14" ry="25" fill="#8c9295" transform="rotate(10 1231 687)" />
<path d="M1236,680 C1240.3,679.2 1251.3,677.2 1262.0,675.0 C1272.7,672.8 1285.2,670.7 1300.0,667.0 C1314.8,663.3 1334.0,657.8 1351.0,653.0 C1368.0,648.2 1384.8,642.8 1402.0,638.0 C1419.2,633.2 1436.8,627.7 1454.0,624.0 C1471.2,620.3 1489.0,617.7 1505.0,616.0 C1521.0,614.3 1537.8,613.7 1550.0,614.0 C1562.2,614.3 1573.3,617.3 1578.0,618.0" fill="none" stroke="#52575a" stroke-width="44" stroke-linejoin="round" />
<path d="M1279.4,693.0 Q1283.1,670.8 1271.2,651.8" fill="none" stroke="#3d4143" stroke-width="2" stroke-linecap="round"/>
<path d="M1313.8,685.2 Q1316.2,662.8 1303.1,644.5" fill="none" stroke="#3d4143" stroke-width="2" stroke-linecap="round"/>
<path d="M1346.9,676.0 Q1348.9,653.6 1335.4,635.6" fill="none" stroke="#3d4143" stroke-width="2" stroke-linecap="round"/>
<path d="M1379.9,666.4 Q1381.5,644.0 1367.8,626.2" fill="none" stroke="#3d4143" stroke-width="2" stroke-linecap="round"/>
<path d="M1412.2,656.9 Q1414.2,634.5 1400.7,616.5" fill="none" stroke="#3d4143" stroke-width="2" stroke-linecap="round"/>
<path d="M1444.5,647.9 Q1446.9,625.5 1433.9,607.2" fill="none" stroke="#3d4143" stroke-width="2" stroke-linecap="round"/>
<path d="M1476.1,641.2 Q1480.3,619.1 1468.8,599.8" fill="none" stroke="#3d4143" stroke-width="2" stroke-linecap="round"/>
<path d="M1508.1,636.8 Q1514.1,615.1 1504.1,595.0" fill="none" stroke="#3d4143" stroke-width="2" stroke-linecap="round"/>
<path d="M1540.5,634.9 Q1548.1,613.8 1539.6,592.9" fill="none" stroke="#3d4143" stroke-width="2" stroke-linecap="round"/>
<path d="M1569.7,637.8 Q1581.7,618.8 1577.9,596.6" fill="none" stroke="#3d4143" stroke-width="2" stroke-linecap="round"/>
<line x1="1227" y1="689" x2="1240" y2="686" stroke="#8c9295" stroke-width="51" />
<ellipse cx="1240" cy="686" rx="7" ry="25.5" fill="#8c9295" transform="rotate(10 1240 686)" />
<ellipse cx="1227" cy="689" rx="7.5" ry="25.5" fill="#8c9295" transform="rotate(10 1227 689)" />
<ellipse cx="1225.5" cy="687" rx="5.5" ry="19.5" fill="#2c3033" transform="rotate(10 1225.5 687)" />
<path d="M1226,672 C1222.0,670.5 1214.3,676.0 1206.0,679.0 C1197.7,682.0 1184.3,686.3 1176.0,690.0 C1167.7,693.7 1162.8,696.5 1156.0,701.0 C1149.2,705.5 1141.8,710.8 1135.0,717.0 C1128.2,723.2 1120.8,731.2 1115.0,738.0 C1109.2,744.8 1104.8,751.0 1100.0,758.0 C1095.2,765.0 1081.0,777.5 1086.0,780.0 C1091.0,782.5 1112.5,776.0 1130.0,773.0 C1147.5,770.0 1177.0,764.2 1191.0,762.0 C1205.0,759.8 1209.3,762.3 1214.0,760.0 C1218.7,757.7 1217.7,752.5 1219.0,748.0 C1220.3,743.5 1220.7,738.0 1222.0,733.0 C1223.3,728.0 1225.5,722.5 1227.0,718.0 C1228.5,713.5 1230.5,711.0 1231.0,706.0 C1231.5,701.0 1230.8,693.7 1230.0,688.0 C1229.2,682.3 1230.0,673.5 1226.0,672.0Z" fill="#e3f2f7" />
<path d="M1221,712 C1222.7,713.3 1217.5,723.7 1216.0,730.0 C1214.5,736.3 1214.0,745.0 1212.0,750.0 C1210.0,755.0 1208.0,758.0 1204.0,760.0 C1200.0,762.0 1189.2,765.0 1188.0,762.0 C1186.8,759.0 1194.0,748.7 1197.0,742.0 C1200.0,735.3 1202.0,727.0 1206.0,722.0 C1210.0,717.0 1219.3,710.7 1221.0,712.0Z" fill="#cbe4eb" />
<path d="M1180,705 C1176.3,705.5 1166.7,717.5 1160.0,725.0 C1153.3,732.5 1145.3,742.5 1140.0,750.0 C1134.7,757.5 1126.3,767.0 1128.0,770.0 C1129.7,773.0 1143.8,772.2 1150.0,768.0 C1156.2,763.8 1159.7,752.7 1165.0,745.0 C1170.3,737.3 1179.5,728.7 1182.0,722.0 C1184.5,715.3 1183.7,704.5 1180.0,705.0Z" fill="#d6ebf1" />
<ellipse cx="1110" cy="722" rx="4" ry="2.5" fill="#e6f4f8" transform="rotate(-30 1110 722)" />
<ellipse cx="1118" cy="738" rx="5" ry="2.5" fill="#e6f4f8" transform="rotate(-30 1118 738)" />
<ellipse cx="1082" cy="750" rx="4" ry="2.5" fill="#e6f4f8" transform="rotate(-30 1082 750)" />
<ellipse cx="1096" cy="746" rx="3" ry="2.5" fill="#e6f4f8" transform="rotate(-30 1096 746)" />
<ellipse cx="1155" cy="684" rx="3" ry="2.5" fill="#e6f4f8" transform="rotate(-30 1155 684)" />
<path d="M1572,600 Q1602,607 1633,598 L1637,634 Q1602,641 1572,640 Z" fill="#7c8a8f" />
<ellipse cx="1574" cy="619.5" rx="9" ry="21.5" fill="#52575a" transform="rotate(3 1574 619.5)" />
<ellipse cx="1646.6" cy="614.2" rx="15.8" ry="19.4" fill="#b7c6cb" transform="rotate(6 1646.6 614.2)" />
<ellipse cx="1651" cy="615" rx="8.6" ry="15.5" fill="#6e7d82" transform="rotate(6 1651 615)" />
<polygon points="1647.5,593 1652.5,593 1654,620 1648.5,621" fill="#b7c6cb" />
<path d="M1646,626 Q1652,620 1659,625" fill="none" stroke="#b7c6cb" stroke-width="2.4"/>
<rect x="1642" y="579" width="16.5" height="11" rx="3" fill="#b9c8cd"/>
<rect x="1647.5" y="588" width="6.5" height="9" fill="#b9c8cd"/>
<path d="M828,770 C790,750 765,700 745,670 C730,648 715,635 702,628" fill="none" stroke="#1b1650" stroke-width="3.5" stroke-linecap="round"/>
<polygon points="691,622 720,634 705,648" fill="#1b1650" />
<line x1="1183" y1="600" x2="1305" y2="575" stroke="#1b1650" stroke-width="3.5" stroke-linecap="round"/>
<polygon points="1324,571 1298,567 1301,584" fill="#1b1650" />
<line x1="1485" y1="655" x2="1366" y2="684" stroke="#1b1650" stroke-width="3.5" stroke-linecap="round"/>
<polygon points="1346,689 1373,675 1375,691" fill="#1b1650" />
<path d="M257,806 C258.7,802.0 262.2,798.0 268.0,796.0 C273.8,794.0 283.7,793.3 292.0,794.0 C300.3,794.7 313.0,796.0 318.0,800.0 C323.0,804.0 325.0,813.3 322.0,818.0 C319.0,822.7 308.3,826.3 300.0,828.0 C291.7,829.7 279.0,829.3 272.0,828.0 C265.0,826.7 260.5,823.7 258.0,820.0 C255.5,816.3 255.3,810.0 257.0,806.0Z" fill="#a3a5a6" />
<path d="M30,915 C32.8,909.7 39.7,903.8 45.0,903.0 C50.3,902.2 59.5,904.7 62.0,910.0 C64.5,915.3 62.8,929.0 60.0,935.0 C57.2,941.0 50.3,946.0 45.0,946.0 C39.7,946.0 30.5,940.2 28.0,935.0 C25.5,929.8 27.2,920.3 30.0,915.0Z" fill="#9a9c9d" />
<path d="M-15,1125 C-11.2,1112.0 0.0,1071.2 8.0,1047.0 C16.0,1022.8 24.3,1000.8 33.0,980.0 C41.7,959.2 50.5,937.8 60.0,922.0 C69.5,906.2 80.0,893.7 90.0,885.0 C100.0,876.3 115.0,872.5 120.0,870.0" fill="none" stroke="#52575a" stroke-width="45" stroke-linejoin="round" />
<path d="M150,868 C153.7,873.3 164.3,890.5 172.0,900.0 C179.7,909.5 186.7,918.8 196.0,925.0 C205.3,931.2 218.0,936.7 228.0,937.0 C238.0,937.3 248.7,934.0 256.0,927.0 C263.3,920.0 267.8,906.2 272.0,895.0 C276.2,883.8 277.8,870.3 281.0,860.0 C284.2,849.7 286.3,840.8 291.0,833.0 C295.7,825.2 302.0,817.5 309.0,813.0 C316.0,808.5 324.2,807.5 333.0,806.0 C341.8,804.5 357.2,804.3 362.0,804.0" fill="none" stroke="#52575a" stroke-width="45" stroke-linejoin="round" />
<path d="M392,800 C397.5,803.7 415.3,813.7 425.0,822.0 C434.7,830.3 442.8,841.7 450.0,850.0 C457.2,858.3 465.0,868.3 468.0,872.0" fill="none" stroke="#52575a" stroke-width="42" stroke-linejoin="round" />
<g transform="rotate(48 478 882)">
<rect x="462" y="858" width="14" height="50" rx="4" fill="#9a9c9d"/>
<rect x="474" y="862" width="14" height="42" rx="3" fill="#838587"/>
<rect x="486" y="856" width="10" height="54" rx="5" fill="#a5a7a8"/>
</g>
<polygon points="83,1006 150,1006 132,1062 94,1120 39,1097" fill="#9a9c9d" />
<polygon points="128,1040 167,1006 207,1090 169,1116" fill="#838587" />
<polygon points="140,1006 172,1006 207,1090 169,1116 140,1062" fill="#9a9c9d" />
<polygon points="66,1057 112,1082 106,1093 60,1068" fill="#f8b32a" />
<polygon points="52,1078 99,1103 93,1113 46,1088" fill="#f8b32a" />
<polygon points="147,1072 190,1054 195,1065 152,1083" fill="#f8b32a" />
<polygon points="156,1093 200,1074 205,1085 161,1104" fill="#f8b32a" />
<path d="M49,1107 L92,1127 Q99,1140 96,1147 Q88,1154 78,1151 Q66,1140 58,1131 L52,1134 L40,1122 Z" fill="#55595b" />
<path d="M169,1116 L200,1104 Q222,1106 232,1110 Q233,1118 226,1122 Q210,1128 198,1132 L199,1137 L181,1141 Z" fill="#55595b" />
<path d="M104,880 Q130,872 168,882 Q178,930 180,1010 Q125,1022 69,1012 Q72,940 104,880 Z" fill="#9a9c9d" />
<path d="M69,1003 Q125,1014 180,1001 L180,1012 Q125,1024 69,1013 Z" fill="#838587" />
<path d="M73,967 Q125,980 177,970 L178,985 Q125,996 72,983 Z" fill="#f8b32a" />
<path d="M70,989 Q125,1001 179,991 L179,1005 Q125,1016 69,1004 Z" fill="#f8b32a" />
<path d="M160,884 C165.3,881.5 173.7,884.0 180.0,890.0 C186.3,896.0 193.7,910.0 198.0,920.0 C202.3,930.0 206.3,942.0 206.0,950.0 C205.7,958.0 200.7,965.3 196.0,968.0 C191.3,970.7 184.0,970.7 178.0,966.0 C172.0,961.3 165.0,950.2 160.0,940.0 C155.0,929.8 148.0,914.3 148.0,905.0 C148.0,895.7 154.7,886.5 160.0,884.0Z" fill="#9a9c9d" />
<path d="M148,905 Q152,940 178,966" fill="none" stroke="#838587" stroke-width="2.5"/>
<path d="M120,862 L172,850 L172,872 Q160,884 140,882 Q125,880 120,862 Z" fill="#f0b48a" />
<ellipse cx="136" cy="845" rx="47" ry="17" fill="#0b161c" transform="rotate(-17 136 845)" />
<path d="M104,846 Q100,800 136,794 Q170,792 172,830 Q150,850 104,846 Z" fill="#6a6d6f" />
<path d="M114,818 Q118,806 128,802" fill="none" stroke="#9a9c9d" stroke-width="3.5" stroke-linecap="round"/>
<polygon points="300,935 355,940 322,1003 303,1035 261,1014" fill="#838587" />
<polygon points="300,935 350,940 318,1003 303,1035 261,1014" fill="#9a9c9d" />
<polygon points="342,937 400,932 419,970 433,1017 389,1035 372,981" fill="#9a9c9d" />
<polygon points="283,978 326,1000 321,1010 278,988" fill="#f8b32a" />
<polygon points="271,998 314,1020 309,1030 266,1008" fill="#f8b32a" />
<polygon points="376,988 424,973 427,984 380,999" fill="#f8b32a" />
<polygon points="383,1008 430,993 433,1004 387,1019" fill="#f8b32a" />
<path d="M267,1023 L303,1037 Q312,1050 312,1058 Q304,1068 293,1066 Q282,1056 275,1049 L270,1053 L256,1040 Z" fill="#55595b" />
<path d="M403,1031 L436,1020 Q456,1022 466,1026 Q467,1035 460,1038 Q446,1043 433,1046 L434,1052 L415,1057 Z" fill="#55595b" />
<path d="M333,812 Q370,804 411,813 Q428,850 433,887 Q420,905 394,912 L397,931 Q342,942 289,931 Q296,870 333,812 Z" fill="#9a9c9d" />
<path d="M290,922 Q342,934 397,922 L397,932 Q342,943 289,932 Z" fill="#838587" />
<path d="M296,884 Q345,897 393,888 L394,903 Q345,912 294,900 Z" fill="#f8b32a" />
<path d="M292,908 Q345,921 395,911 L396,926 Q345,936 290,924 Z" fill="#f8b32a" />
<path d="M395,818 C399.8,814.8 409.2,819.7 415.0,826.0 C420.8,832.3 426.8,845.7 430.0,856.0 C433.2,866.3 435.0,880.0 434.0,888.0 C433.0,896.0 428.3,901.0 424.0,904.0 C419.7,907.0 413.0,909.3 408.0,906.0 C403.0,902.7 397.7,894.2 394.0,884.0 C390.3,873.8 385.8,856.0 386.0,845.0 C386.2,834.0 390.2,821.2 395.0,818.0Z" fill="#9a9c9d" />
<path d="M386,845 Q388,880 408,906" fill="none" stroke="#838587" stroke-width="2.5"/>
<path d="M352,800 L408,792 L404,808 Q385,818 362,812 Z" fill="#7b2a12" />
<ellipse cx="386" cy="781" rx="51" ry="18" fill="#0b161c" transform="rotate(-14 386 781)" />
<path d="M352,786 Q346,742 384,736 Q420,734 422,772 Q398,792 352,786 Z" fill="#6a6d6f" />
<path d="M362,760 Q366,748 376,744" fill="none" stroke="#9a9c9d" stroke-width="3.5" stroke-linecap="round"/>
<rect x="1110.5" y="-60" width="1000" height="227" rx="56" fill="#f9b227"/>
<text x="1179.2" y="117.4" font-size="90.6" font-weight="bold" fill="#111c24" textLength="800" lengthAdjust="spacingAndGlyphs" stroke="#111c24" stroke-width="1.2">2 TANK OPERATION</text>
<text x="1803.5" y="208" font-size="18.4" font-style="italic" fill="#111c24" textLength="162" lengthAdjust="spacing">PRESENTED BY</text>
<text x="1682.3" y="261.8" font-size="42" font-weight="bold" fill="#111c24" textLength="228.5" lengthAdjust="spacingAndGlyphs" stroke="#111c24" stroke-width="2.4" stroke-linejoin="miter">FOL-DA-TANK</text>
<text x="1913" y="234" font-size="6" font-weight="normal" fill="#111c24" text-anchor="start" >™</text>
<defs><path id="ring" d="M1928.1,231.2 A22.9,22.9 0 1,1 1928.0,231.3"/></defs>
<text font-size="6.6" font-weight="bold" font-style="italic" fill="#111c24" textLength="142" lengthAdjust="spacingAndGlyphs"><textPath href="#ring" startOffset="0"><tspan fill="#e0312d">•</tspan> THE FIRST CHOICE OF FIRST RESPONDERS</textPath></text>
<path d="M1946.90,228.80 L1960.50,236.65 L1960.50,252.35 L1946.90,260.20 L1933.30,252.35 L1933.30,236.65Z" fill="none" stroke="#e0312d" stroke-width="4" stroke-linejoin="miter"/>
<line x1="1946.9" y1="243.3" x2="1946.9" y2="228.8" stroke="#e0312d" stroke-width="3.7" />
<line x1="1946.9" y1="243.3" x2="1960.5" y2="236.65" stroke="#e0312d" stroke-width="3.7" />
<line x1="1946.9" y1="243.3" x2="1946.9" y2="260.2" stroke="#e0312d" stroke-width="3.7" />
<line x1="1946.9" y1="243.3" x2="1933.3" y2="236.65" stroke="#e0312d" stroke-width="3.7" />
<rect x="467" y="650.7" width="218.6" height="99.3" rx="12" fill="#fbfdfd"/>
<text x="489.5" y="692.4" font-size="35.7" font-weight="normal" fill="#111c24" textLength="170.5" lengthAdjust="spacingAndGlyphs" stroke="#111c24" stroke-width="0.8">Draft from</text>
<text x="488.6" y="729.3" font-size="35.7" font-weight="normal" fill="#111c24" textLength="69" lengthAdjust="spacingAndGlyphs" stroke="#111c24" stroke-width="0.8">tank</text>
<text x="573" y="729.3" font-size="35.7" font-weight="normal" fill="#111c24" textLength="25.5" lengthAdjust="spacingAndGlyphs" stroke="#111c24" stroke-width="0.8">1.</text>
<rect x="1344.8" y="797.1" width="312.4" height="120.8" rx="12" fill="#fbfdfd"/>
<text x="1368" y="846" font-size="35.7" font-weight="normal" fill="#111c24" textLength="242" lengthAdjust="spacingAndGlyphs" stroke="#111c24" stroke-width="0.8">Transfer water</text>
<text x="1368" y="891.6" font-size="35.7" font-weight="normal" fill="#111c24" textLength="262" lengthAdjust="spacingAndGlyphs" stroke="#111c24" stroke-width="0.8">from tank 2 to 1.</text>
<line x1="1773.7" y1="420" x2="1773.7" y2="444" stroke="#f9b227" stroke-width="3.4" />
<circle cx="1773.7" cy="444.1" r="7.3" fill="#f9b227" />
<rect x="1717.9" y="371.2" width="111.9" height="52.4" rx="10" fill="#f9b227"/>
<text x="1727.2" y="406.1" font-size="26.5" font-weight="bold" fill="#111c24" textLength="88.8" lengthAdjust="spacingAndGlyphs" stroke="#111c24" stroke-width="0.5">TANK 2</text>
<line x1="879.2" y1="1031.6" x2="879.2" y2="1058" stroke="#f9b227" stroke-width="3.4" />
<circle cx="879.2" cy="1031.6" r="7.3" fill="#f9b227" />
<rect x="823.8" y="1055.8" width="110.9" height="51.7" rx="10" fill="#f9b227"/>
<text x="835.7" y="1090" font-size="26.5" font-weight="bold" fill="#111c24" textLength="83.3" lengthAdjust="spacingAndGlyphs" stroke="#111c24" stroke-width="0.5">TANK 1</text>
<line x1="258.7" y1="143.7" x2="220" y2="165.5" stroke="#111c24" stroke-width="3.2" stroke-linecap="round"/>
<circle cx="258.7" cy="143.7" r="20.9" fill="#111c24" />
<text x="258.7" y="154.832" font-size="30.5" font-weight="bold" fill="#f6f7f8" text-anchor="middle" transform="translate(258.7 0) scale(0.92 1) translate(-258.7 0)">A</text>
<line x1="669" y1="519" x2="656" y2="556" stroke="#111c24" stroke-width="3.2" stroke-linecap="round"/>
<circle cx="669" cy="519" r="20.9" fill="#111c24" />
<text x="669" y="530.133" font-size="30.5" font-weight="bold" fill="#f6f7f8" text-anchor="middle" transform="translate(669 0) scale(0.92 1) translate(-669 0)">B</text>
<line x1="1030" y1="754" x2="987" y2="760" stroke="#111c24" stroke-width="3.2" stroke-linecap="round"/>
<circle cx="1030" cy="754" r="20.9" fill="#111c24" />
<text x="1030" y="765.133" font-size="30.5" font-weight="bold" fill="#f6f7f8" text-anchor="middle" transform="translate(1030 0) scale(0.92 1) translate(-1030 0)">C</text>
<line x1="974" y1="569" x2="971" y2="605" stroke="#111c24" stroke-width="3.2" stroke-linecap="round"/>
<circle cx="974" cy="569" r="20.9" fill="#111c24" />
<text x="974" y="580.133" font-size="30.5" font-weight="bold" fill="#f6f7f8" text-anchor="middle" transform="translate(974 0) scale(0.92 1) translate(-974 0)">D</text>
<line x1="1688" y1="583" x2="1661" y2="606" stroke="#111c24" stroke-width="3.2" stroke-linecap="round"/>
<circle cx="1688" cy="583" r="20.9" fill="#111c24" />
<text x="1688" y="594.133" font-size="30.5" font-weight="bold" fill="#f6f7f8" text-anchor="middle" transform="translate(1688 0) scale(0.92 1) translate(-1688 0)">E</text>
<rect x="0" y="1188" width="29" height="227" fill="#f9b227"/>
<text x="62.5" y="1222.4" font-size="36.8" font-weight="bold" fill="#111c24" textLength="289.5" lengthAdjust="spacingAndGlyphs" stroke="#111c24" stroke-width="0.4">PRODUCTS USED</text>
<circle cx="76.5" cy="1274.8" r="13.7" fill="#111c24" />
<text x="76.5" y="1281.7" font-size="19" font-weight="bold" fill="#f1f2f3" text-anchor="middle" transform="translate(76.5 0) scale(0.84 1) translate(-76.5 0)">A</text>
<text x="103.6" y="1288" font-size="34.8" font-weight="normal" fill="#111c24" textLength="192" lengthAdjust="spacingAndGlyphs" >Attack Line</text>
<circle cx="76.5" cy="1331.1" r="13.7" fill="#111c24" />
<text x="76.5" y="1338" font-size="19" font-weight="bold" fill="#f1f2f3" text-anchor="middle" transform="translate(76.5 0) scale(0.84 1) translate(-76.5 0)">B</text>
<text x="103.6" y="1344.3" font-size="34.8" font-weight="normal" fill="#111c24" textLength="363" lengthAdjust="spacingAndGlyphs" >6” Hard Suction Hose</text>
<circle cx="76.5" cy="1387.8" r="13.7" fill="#111c24" />
<text x="76.5" y="1394.7" font-size="19" font-weight="bold" fill="#f1f2f3" text-anchor="middle" transform="translate(76.5 0) scale(0.84 1) translate(-76.5 0)">C</text>
<text x="103.6" y="1401" font-size="34.8" font-weight="normal" fill="#111c24" textLength="312.5" lengthAdjust="spacingAndGlyphs" >Low Level Strainer</text>
<circle cx="522.8" cy="1274.8" r="13.7" fill="#111c24" />
<text x="522.8" y="1281.7" font-size="19" font-weight="bold" fill="#f1f2f3" text-anchor="middle" transform="translate(522.8 0) scale(0.84 1) translate(-522.8 0)">D</text>
<text x="555" y="1288" font-size="34.8" font-weight="normal" fill="#111c24" textLength="141.5" lengthAdjust="spacingAndGlyphs" >1.5” Line</text>
<circle cx="522.8" cy="1331.1" r="13.7" fill="#111c24" />
<text x="522.8" y="1338" font-size="19" font-weight="bold" fill="#f1f2f3" text-anchor="middle" transform="translate(522.8 0) scale(0.84 1) translate(-522.8 0)">E</text>
<text x="557" y="1344.3" font-size="34.8" font-weight="normal" fill="#111c24" textLength="299" lengthAdjust="spacingAndGlyphs" >Power Jet Siphon</text>
<g transform="translate(1524,1092) rotate(-14.6)">
<rect x="-149" y="-23" width="298" height="46" rx="10" fill="#f9b227"/>
<text x="-133" y="9.5" font-size="25" font-weight="bold" fill="#111c24" textLength="266" lengthAdjust="spacingAndGlyphs">TANKER DUMP LANE</text>
</g>
<g transform="translate(1130.5,864.5) rotate(-9.3)">
<text x="0" y="0" font-size="14" font-weight="bold" fill="#f4f4f4" stroke="#f4f4f4" stroke-width="0.4" textLength="73.5" lengthAdjust="spacingAndGlyphs">FOL-DA-TANK</text>
<path d="M36.00,-34.60 L42.58,-30.80 L42.58,-23.20 L36.00,-19.40 L29.42,-23.20 L29.42,-30.80Z" fill="none" stroke="#f4f4f4" stroke-width="1.8"/>
<line x1="36" y1="-27.5" x2="36" y2="-34.6" stroke="#f4f4f4" stroke-width="1.7" />
<line x1="36" y1="-27.5" x2="42.5818" y2="-30.8" stroke="#f4f4f4" stroke-width="1.7" />
<line x1="36" y1="-27.5" x2="36" y2="-19.4" stroke="#f4f4f4" stroke-width="1.7" />
<line x1="36" y1="-27.5" x2="29.4182" y2="-30.8" stroke="#f4f4f4" stroke-width="1.7" />
<rect x="5" y="8" width="15" height="4" fill="#f4f4f4"/>
<rect x="5" y="15" width="15" height="4" fill="#f4f4f4"/>
<rect x="28.75" y="8" width="15" height="4" fill="#f4f4f4"/>
<rect x="28.75" y="15" width="15" height="4" fill="#f4f4f4"/>
<rect x="51.5" y="8" width="15" height="4" fill="#f4f4f4"/>
<rect x="51.5" y="15" width="15" height="4" fill="#f4f4f4"/>
</g>
<g transform="translate(1744.4,708.3) rotate(-7)">
<text x="0" y="0" font-size="14" font-weight="bold" fill="#f4f4f4" stroke="#f4f4f4" stroke-width="0.4" textLength="73.5" lengthAdjust="spacingAndGlyphs">FOL-DA-TANK</text>
<path d="M34.00,-35.60 L40.58,-31.80 L40.58,-24.20 L34.00,-20.40 L27.42,-24.20 L27.42,-31.80Z" fill="none" stroke="#f4f4f4" stroke-width="1.8"/>
<line x1="34" y1="-28.5" x2="34" y2="-35.6" stroke="#f4f4f4" stroke-width="1.7" />
<line x1="34" y1="-28.5" x2="40.5818" y2="-31.8" stroke="#f4f4f4" stroke-width="1.7" />
<line x1="34" y1="-28.5" x2="34" y2="-20.4" stroke="#f4f4f4" stroke-width="1.7" />
<line x1="34" y1="-28.5" x2="27.4182" y2="-31.8" stroke="#f4f4f4" stroke-width="1.7" />
<rect x="5" y="9" width="15" height="4" fill="#f4f4f4"/>
<rect x="5" y="16" width="15" height="4" fill="#f4f4f4"/>
<rect x="28.75" y="9" width="15" height="4" fill="#f4f4f4"/>
<rect x="28.75" y="16" width="15" height="4" fill="#f4f4f4"/>
<rect x="51.5" y="9" width="15" height="4" fill="#f4f4f4"/>
<rect x="51.5" y="16" width="15" height="4" fill="#f4f4f4"/>
</g>
</svg>
</body></html>
